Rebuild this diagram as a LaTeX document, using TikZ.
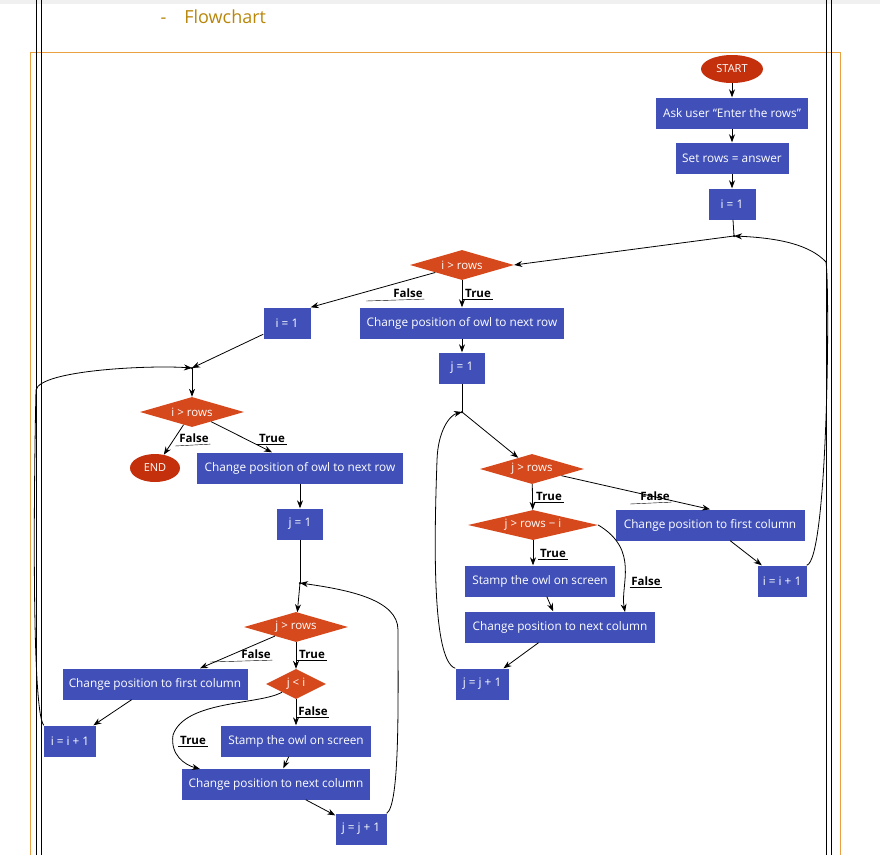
\documentclass[tikz,border=0pt]{standalone}
\usepackage{fontspec}
\setmainfont{Open Sans}
\usetikzlibrary{shapes.geometric,arrows.meta}
\definecolor{bx}{HTML}{4050B8}
\definecolor{dm}{HTML}{D5491C}
\definecolor{el}{HTML}{C4300C}
\definecolor{og}{HTML}{E8A040}
\definecolor{tt}{HTML}{B8860B}
\begin{document}
\begin{tikzpicture}[x=1pt,y=-1pt,
 box/.style={fill=bx,text=white,font=\fontsize{11.8}{13}\selectfont,minimum height=31pt,inner sep=1pt},
 dia/.style={diamond,aspect=3.5,fill=dm,text=white,font=\fontsize{11.5}{13}\selectfont,inner sep=0pt,minimum height=30pt,minimum width=104pt},
 term/.style={ellipse,fill=el,text=white,font=\fontsize{11}{13}\selectfont,inner sep=1pt,minimum height=28pt},
 lbl/.style={font=\bfseries\fontsize{11.5}{13}\selectfont,inner sep=1.5pt},
 ar/.style={-{Stealth[length=8pt,width=6pt]},thick},
 ln/.style={thick},
 jn/.style={circle,fill=black,inner sep=0pt,minimum size=2.5pt}]
\useasboundingbox (0,0) rectangle (880,855);
\fill[black!6] (0,0) rectangle (880,4);
\draw[og,thick] (30,855) -- (30,52) -- (840,52) -- (840,855);
\draw[thick] (36,0) -- (36,855); \draw[thick] (41,0) -- (41,855);
\draw[thick] (826,0) -- (826,855); \draw[thick] (831,0) -- (831,855);
\node[text=tt,font=\fontsize{18}{20}\selectfont,anchor=west] (title) at (157,17) {-\quad Flowchart};
% right branch
\node[term,minimum width=62pt] (start) at (732,69) {START};
\node[box,minimum width=152pt] (ask) at (732,113) {Ask user “Enter the rows”};
\node[box,minimum width=113pt] (set) at (732,158) {Set rows = answer};
\node[box,minimum width=47pt] (i1) at (732,204) {i = 1};
\coordinate (J1) at (734,236);
\node[dia] (d1) at (462,265) {i > rows};
\node[box,minimum width=47pt] (i1b) at (287,323) {i = 1};
\node[box,minimum width=204pt] (cpr) at (462,323) {Change position of owl to next row};
\node[box,minimum width=46pt] (j1) at (462,368) {j = 1};
\coordinate (J3) at (462,412);
\node[dia] (d2) at (532,469) {j > rows};
\node[dia,minimum width=130pt] (d3) at (533,525) {j > rows − i};
\node[box,minimum width=189pt] (cfc) at (710,525) {Change position to first column};
\node[box,minimum width=49pt] (ii) at (782,581) {i = i + 1};
\node[box,minimum width=150pt] (st) at (540,581) {Stamp the owl on screen};
\node[box,minimum width=190pt] (cnc) at (560,627) {Change position to next column};
\node[box,minimum width=53pt] (jj) at (482,684) {j = j + 1};
% left branch
\coordinate (J2) at (192,368);
\node[dia] (d4) at (192,412) {i > rows};
\node[term,minimum width=50pt] (end) at (155,468) {END};
\node[box,minimum width=206pt] (cpr2) at (300,468) {Change position of owl to next row};
\node[box,minimum width=46pt] (j12) at (300,524) {j = 1};
\coordinate (J4) at (300,583);
\node[dia] (d5) at (296,627) {j > rows};
\node[box,minimum width=185pt] (cfc2) at (155,684) {Change position to first column};
\node[dia,minimum width=60pt] (d6) at (296,684) {j < i};
\node[box,minimum width=52pt] (ii2) at (70,741) {i = i + 1};
\node[box,minimum width=150pt] (st2) at (296,741) {Stamp the owl on screen};
\node[box,minimum width=188pt] (cnc2) at (276,784) {Change position to next column};
\node[box,minimum width=51pt] (jj2) at (361,829) {j = j + 1};
\foreach \c in {J1,J2,J3,J4} \node[jn] at (\c) {};
% edges right
\draw[ar] (start) -- (ask); \draw[ar] (ask) -- (set); \draw[ar] (set) -- (i1);
\draw[ln] (i1) -- (J1);
\draw[ar] (J1) -- (d1.east);
\draw[ar] (ii.north east) .. controls (828,560) and (830,290) .. (826,262) .. controls (810,245) and (780,238) .. (J1);
\draw[ar] (d1) -- (i1b.north east);
\draw[ar] (d1) -- (cpr);
\draw[ar] (cpr) -- (j1);
\draw[ln] (j1) -- (J3);
\draw[ar] (J3) -- (d2);
\draw[ar] (jj.north west) .. controls (430,660) and (435,520) .. (437,460) .. controls (438,430) and (450,415) .. (J3);
\draw[ar] (d2) -- (d3);
\draw[ar] (d2) -- (cfc.north);
\draw[ar] (d3) -- (st.north -| d3);
\draw[ar] (d3.east) .. controls (640,550) and (620,585) .. (625,612);
\draw[ar] (st) -- (cnc);
\draw[ar] (cnc) -- (jj);
\draw[ar] (cfc) -- (ii);
% edges left
\draw[ar] (i1b) -- (J2);
\draw[ar] (J2) -- (d4);
\draw[ar] (d4) -- (end);
\draw[ar] (d4) -- (cpr2.north -| 272,0);
\draw[ar] (cpr2) -- (j12);
\draw[ln] (j12) -- (J4);
\draw[ar] (J4) -- (d5);
\draw[ar] (d5) -- (cfc2.north -| 200,0);
\draw[ar] (d5) -- (d6);
\draw[ar] (d6) -- (st2);
\draw[ar] (d6) .. controls (260,705) and (185,700) .. (173,735) .. controls (170,755) and (185,765) .. (200,769);
\draw[ar] (st2) -- (cnc2);
\draw[ar] (cnc2) -- (jj2);
\draw[ar] (cfc2) -- (ii2);
\draw[ar] (jj2.north east) .. controls (400,805) and (398,700) .. (398,630) .. controls (398,600) and (350,590) .. (J4);
\draw[ar] (ii2.north west) .. controls (30,710) and (35,430) .. (36,390) .. controls (40,370) and (150,365) .. (J2);
% labels
\node[lbl] (l1) at (408,293) {False}; \draw (366,301) -- (l1.south east);
\node[lbl] (l2) at (478,293) {True}; \draw (l2.south west) -- (l2.south east);
\node[lbl] (l3) at (549,496) {True}; \draw (l3.south west) -- (l3.south east);
\node[lbl] (l4) at (655,496) {False}; \draw (630,504) -- (l4.south east);
\node[lbl] (l5) at (553,553) {True}; \draw (l5.south west) -- (l5.south east);
\node[lbl] (l6) at (646,581) {False}; \draw (l6.south west) -- (l6.south east);
\node[lbl] (l7) at (194,438) {False}; \draw (175,446) -- (l7.south east);
\node[lbl] (l8) at (272,438) {True}; \draw (l8.south west) -- (l8.south east);
\node[lbl] (l9) at (256,654) {False}; \draw (210,662) -- (l9.south east);
\node[lbl] (l10) at (312,654) {True}; \draw (l10.south west) -- (l10.south east);
\node[lbl] (l11) at (313,711) {False}; \draw (l11.south west) -- (l11.south east);
\node[lbl] (l12) at (193,740) {True}; \draw (l12.south west) -- (l12.south east);
\end{tikzpicture}
\end{document}
